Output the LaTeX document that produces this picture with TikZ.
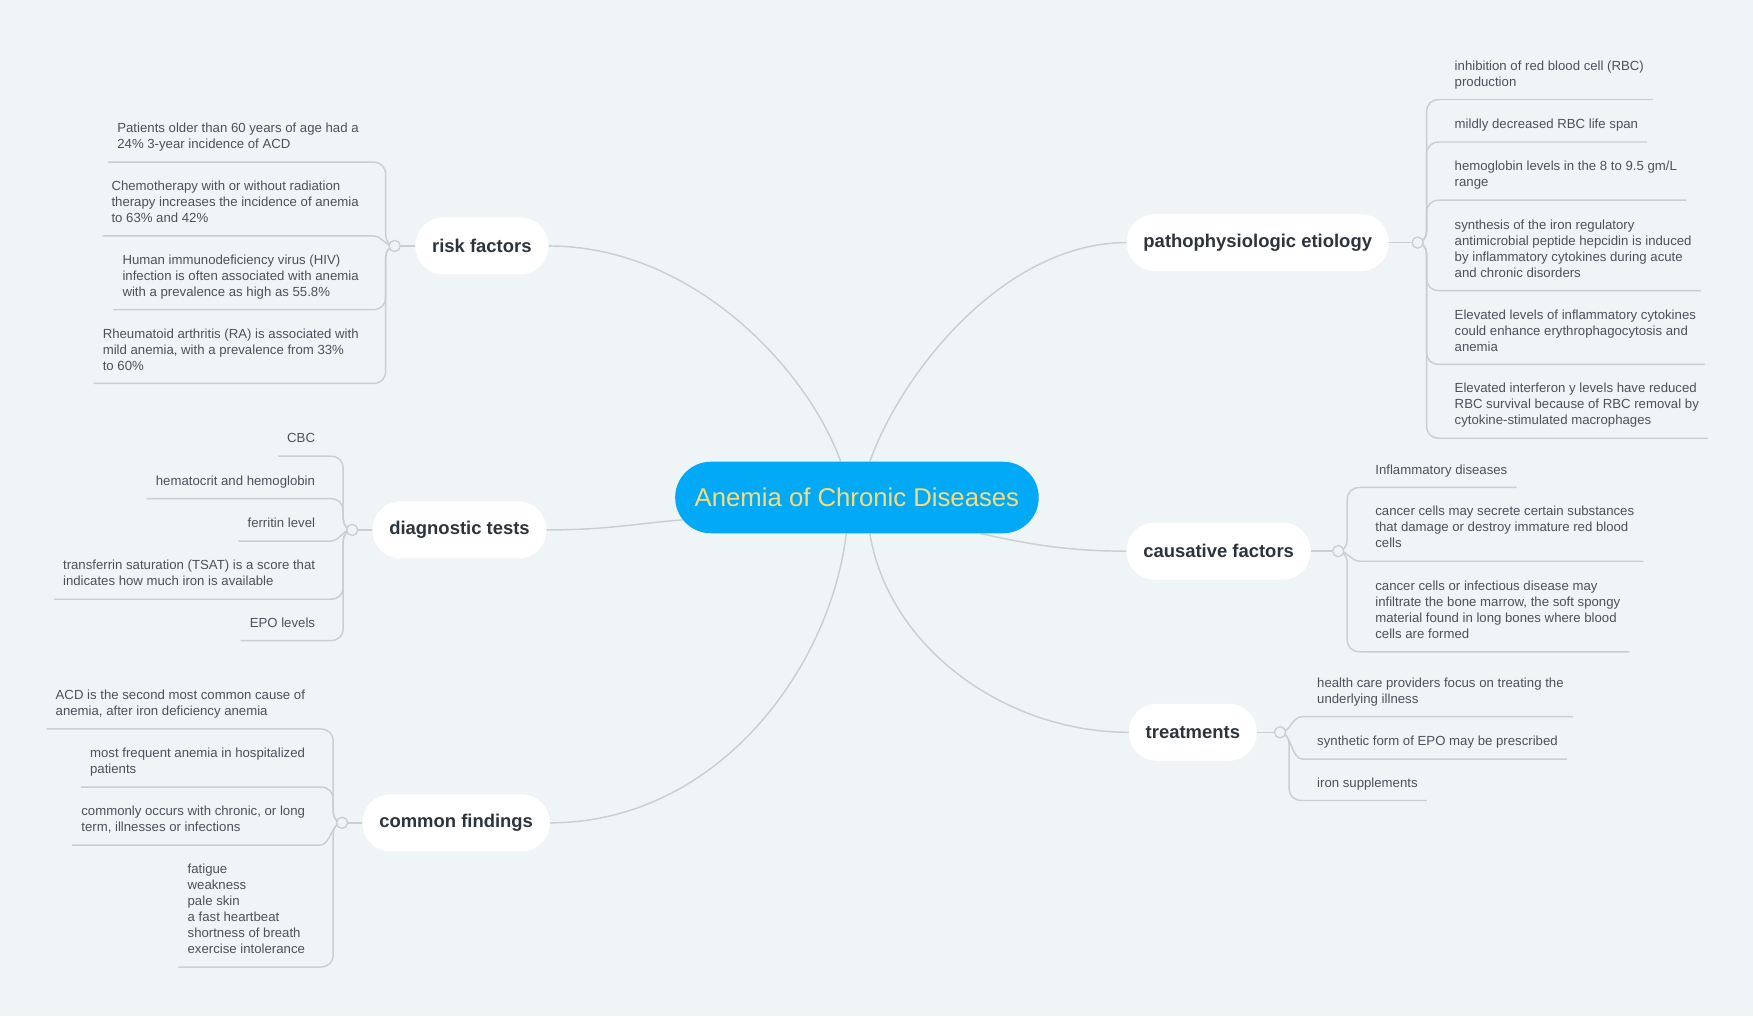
\documentclass[tikz,border=0pt]{standalone}
\usepackage{fontspec}
\setmainfont{Liberation Sans}
\usetikzlibrary{calc}
\pgfdeclarelayer{bglayer}
\pgfdeclarelayer{edges}
\pgfsetlayers{bglayer,edges,main}
\definecolor{bgc}{HTML}{EFF4F7}
\definecolor{linec}{HTML}{CACFD4}
\definecolor{leafc}{HTML}{4B5259}
\definecolor{branchc}{HTML}{2C343C}
\definecolor{centc}{HTML}{02A9F6}
\definecolor{centtxt}{HTML}{F8DC7C}
\tikzset{
  conn/.style={draw=linec, line width=1.3pt},
  leaf/.style={inner sep=0pt, align=left, text=leafc, font=\fontsize{11.8}{14.3}\selectfont, execute at end node={\strut}},
  leafL/.style={leaf, anchor=south east, yshift=-1.5pt},
  leafR/.style={leaf, anchor=south west, yshift=-1.5pt},
  branch/.style={fill=white, rounded corners=25pt, minimum height=51pt, inner xsep=15pt, inner ysep=0pt, text=branchc, font=\fontsize{16.5}{20}\selectfont\bfseries},
  central/.style={fill=centc, rounded corners=32pt, minimum height=64pt, inner xsep=17.5pt, inner ysep=0pt, text=centtxt, font=\fontsize{23}{28}\selectfont},
  junc/.style={circle, draw=linec, fill=bgc, line width=1.2pt, minimum size=10pt, inner sep=0pt}
}
% #1 side (-1 left, 1 right), #2 jx, #3 jy, #4 ey, #5 leaf node, #6 junction node
\newcommand\kid[6]{%
  \pgfmathsetmacro\kdd{#4-#3}%
  \pgfmathtruncatemacro\kfar{abs(\kdd)>24}%
  \pgfmathsetmacro\kss{(\kdd>0)?1:-1}%
  \pgfmathsetmacro\kya{-#4}%
  \pgfmathsetmacro\kyb{-#4+(\kss)*4}%
  \pgfmathsetmacro\kyc{-#4+(\kss)*12}%
  \pgfmathsetmacro\kyd{-#3-(\kss)*10}%
  \pgfmathsetmacro\kye{-#3-(\kss)*4}%
  \pgfmathsetmacro\kyj{-#3}%
  \pgfmathsetmacro\kxa{#2+(#1)*20}%
  \pgfmathsetmacro\kxb{#2+(#1)*12}%
  \pgfmathsetmacro\kxc{#2+(#1)*8}%
  \pgfmathsetmacro\kxd{#2+(#1)*10}%
  \pgfmathsetmacro\kxe{#2+(#1)*4}%
  \ifnum#1<0
    \coordinate (kend) at ([xshift=-8pt,yshift=-7.5pt]#5.south west);
  \else
    \coordinate (kend) at ([xshift=8pt,yshift=-7.5pt]#5.south east);
  \fi
  \ifnum\kfar=1
    \draw[conn] (kend) -- (\kxa,\kya) .. controls (\kxb,\kya) and (\kxc,\kyb) .. (\kxc,\kyc)
      -- (\kxc,\kyd) .. controls (\kxc,\kye) and (\kxe,\kyj) .. (#6.center);
  \else
    \draw[conn] (kend) -- (\kxa,\kya) .. controls (\kxd,\kya) and (\kxd,\kyj) .. (#6.center);
  \fi
}
\begin{document}
\begin{tikzpicture}[x=1pt,y=1pt]
\begin{pgfonlayer}{bglayer}
  \fill[bgc] (0,0) rectangle (1568,-909);
\end{pgfonlayer}
\useasboundingbox (0,0) rectangle (1568,-909);

% central
\node[central] (c) at (766.5,-445) {Anemia of Chronic Diseases};

% branches
\node[branch] (rf) at (431,-220) {risk factors};
\node[branch] (dt) at (411,-474) {diagnostic tests};
\node[branch] (cf) at (408,-736) {common findings};
\node[branch] (pe) at (1125,-217) {pathophysiologic etiology};
\node[branch] (ca) at (1090,-493) {causative factors};
\node[branch] (tr) at (1067,-655) {treatments};

% junctions
\node[junc] (jrf) at (353,-220) {};
\node[junc] (jdt) at (315,-474) {};
\node[junc] (jcf) at (306,-736) {};
\node[junc] (jpe) at (1268,-217) {};
\node[junc] (jca) at (1197,-493) {};
\node[junc] (jtr) at (1145,-655) {};

% risk factors leaves
\node[leafL] (r1) at (321,-136) {Patients older than 60 years of age had a\\24\% 3-year incidence of ACD};
\node[leafL] (r2) at (321,-202) {Chemotherapy with or without radiation\\therapy increases the incidence of anemia\\to 63\% and 42\%};
\node[leafL] (r3) at (321,-268) {Human immunodeficiency virus (HIV)\\infection is often associated with anemia\\with a prevalence as high as 55.8\%};
\node[leafL] (r4) at (321,-334) {Rheumatoid arthritis (RA) is associated with\\mild anemia, with a prevalence from 33\%\\to 60\%};

% diagnostic tests leaves
\node[leafL] (d1) at (282,-399) {CBC};
\node[leafL] (d2) at (282,-437) {hematocrit and hemoglobin};
\node[leafL] (d3) at (282,-475) {ferritin level};
\node[leafL] (d4) at (282,-527) {transferrin saturation (TSAT) is a score that\\indicates how much iron is available};
\node[leafL] (d5) at (282,-564) {EPO levels};

% common findings leaves
\node[leafL] (f1) at (273,-643) {ACD is the second most common cause of\\anemia, after iron deficiency anemia};
\node[leafL] (f2) at (273,-695) {most frequent anemia in hospitalized\\patients};
\node[leafL] (f3) at (273,-747) {commonly occurs with chronic, or long\\term, illnesses or infections};
\node[leafL] (f4) at (273,-856) {fatigue\\weakness\\pale skin\\a fast heartbeat\\shortness of breath\\exercise intolerance};

% pathophysiologic etiology leaves
\node[leafR] (p1) at (1301,-80) {inhibition of red blood cell (RBC)\\production};
\node[leafR] (p2) at (1301,-118) {mildly decreased RBC life span};
\node[leafR] (p3) at (1301,-170) {hemoglobin levels in the 8 to 9.5 gm/L\\range};
\node[leafR] (p4) at (1301,-251) {synthesis of the iron regulatory\\antimicrobial peptide hepcidin is induced\\by inflammatory cytokines during acute\\and chronic disorders};
\node[leafR] (p5) at (1301,-317) {Elevated levels of inflammatory cytokines\\could enhance erythrophagocytosis and\\anemia};
\node[leafR] (p6) at (1301,-383) {Elevated interferon y levels have reduced\\RBC survival because of RBC removal by\\cytokine-stimulated macrophages};

% causative factors leaves
\node[leafR] (c1) at (1230,-427) {Inflammatory diseases};
\node[leafR] (c2) at (1230,-493) {cancer cells may secrete certain substances\\that damage or destroy immature red blood\\cells};
\node[leafR] (c3) at (1230,-574) {cancer cells or infectious disease may\\infiltrate the bone marrow, the soft spongy\\material found in long bones where blood\\cells are formed};

% treatments leaves
\node[leafR] (t1) at (1178,-632) {health care providers focus on treating the\\underlying illness};
\node[leafR] (t2) at (1178,-670) {synthetic form of EPO may be prescribed};
\node[leafR] (t3) at (1178,-707) {iron supplements};

\begin{pgfonlayer}{edges}
  % central to branches
  \draw[conn] ([xshift=-14.5pt]c.north) .. controls (722,-330) and (620,-220) .. (rf.east);
  \draw[conn] ([xshift=11.5pt]c.north) .. controls (808,-330) and (900,-217) .. (pe.west);
  \draw[conn] (dt.east) .. controls (545,-474) and (570,-468) .. ([shift={(7pt,-20pt)}]c.west);
  \draw[conn] ([xshift=110.5pt]c.south) .. controls (925,-488) and (960,-493) .. (ca.west);
  \draw[conn] ([xshift=-9.5pt]c.south) .. controls (742,-600) and (640,-736) .. (cf.east);
  \draw[conn] ([xshift=11.5pt]c.south) .. controls (795,-580) and (900,-655) .. (tr.west);
  % branch to junction
  \draw[conn] (rf.west) -- (jrf);
  \draw[conn] (dt.west) -- (jdt);
  \draw[conn] (cf.west) -- (jcf);
  \draw[conn] (pe.east) -- (jpe);
  \draw[conn] (ca.east) -- (jca);
  \draw[conn] (tr.east) -- (jtr);
  % leaves
  \kid{-1}{353}{220}{145}{r1}{jrf}
  \kid{-1}{353}{220}{211}{r2}{jrf}
  \kid{-1}{353}{220}{277}{r3}{jrf}
  \kid{-1}{353}{220}{343}{r4}{jrf}
  \kid{-1}{315}{474}{408}{d1}{jdt}
  \kid{-1}{315}{474}{446}{d2}{jdt}
  \kid{-1}{315}{474}{484}{d3}{jdt}
  \kid{-1}{315}{474}{536}{d4}{jdt}
  \kid{-1}{315}{474}{573}{d5}{jdt}
  \kid{-1}{306}{736}{652}{f1}{jcf}
  \kid{-1}{306}{736}{704}{f2}{jcf}
  \kid{-1}{306}{736}{756}{f3}{jcf}
  \kid{-1}{306}{736}{865}{f4}{jcf}
  \kid{1}{1268}{217}{89}{p1}{jpe}
  \kid{1}{1268}{217}{127}{p2}{jpe}
  \kid{1}{1268}{217}{179}{p3}{jpe}
  \kid{1}{1268}{217}{260}{p4}{jpe}
  \kid{1}{1268}{217}{326}{p5}{jpe}
  \kid{1}{1268}{217}{392}{p6}{jpe}
  \kid{1}{1197}{493}{436}{c1}{jca}
  \kid{1}{1197}{493}{502}{c2}{jca}
  \kid{1}{1197}{493}{583}{c3}{jca}
  \kid{1}{1145}{655}{641}{t1}{jtr}
  \kid{1}{1145}{655}{679}{t2}{jtr}
  \kid{1}{1145}{655}{716}{t3}{jtr}
\end{pgfonlayer}
\end{tikzpicture}
\end{document}
